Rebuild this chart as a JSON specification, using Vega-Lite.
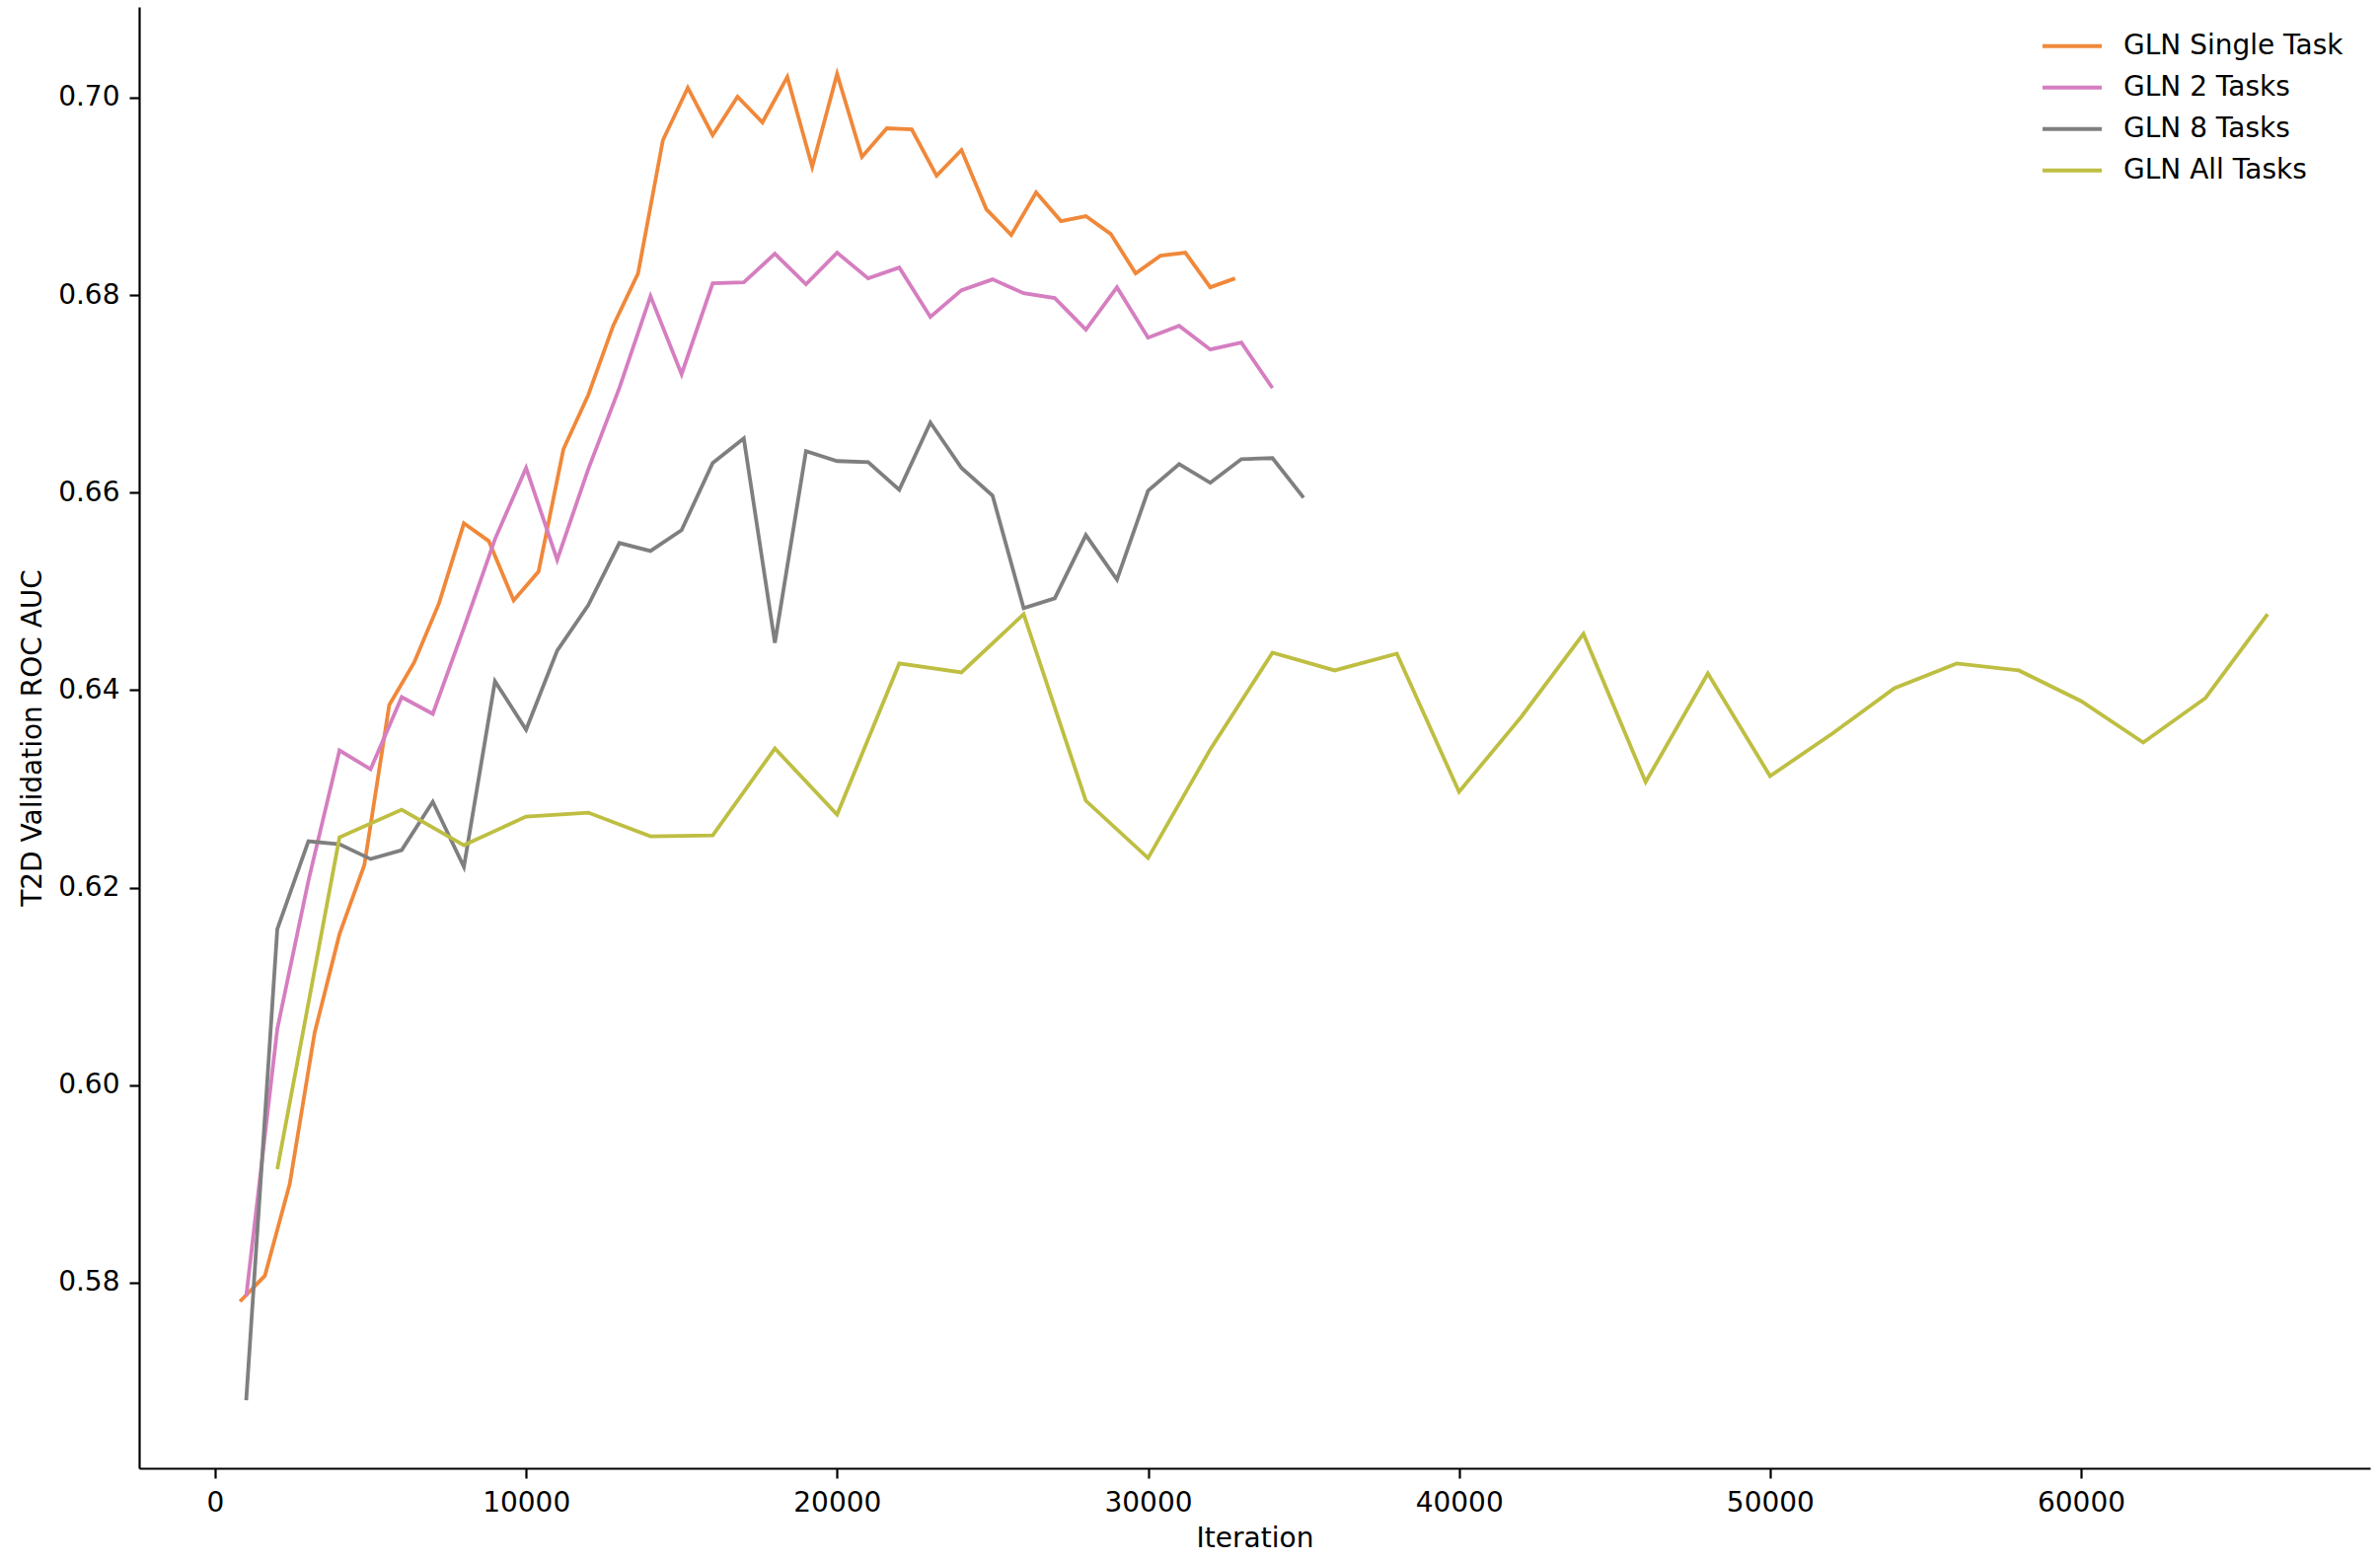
{
  "$schema": "https://vega.github.io/schema/vega-lite/v6.json",
  "width": 2261,
  "height": 1481,
  "autosize": {"type": "none"},
  "padding": {"left": 141, "top": 7, "right": 10, "bottom": 94},
  "background": "white",
  "config": {
    "view": {"stroke": null},
    "font": "DejaVu Sans",
    "axis": {
      "grid": false,
      "domainColor": "black",
      "domainWidth": 2.2,
      "tickColor": "black",
      "tickWidth": 2.2,
      "tickSize": 10,
      "labelFont": "DejaVu Sans",
      "labelFontSize": 28,
      "labelColor": "black",
      "titleFont": "DejaVu Sans",
      "titleFontSize": 28,
      "titleFontWeight": "normal",
      "titleColor": "black"
    },
    "legend": {
      "labelFont": "DejaVu Sans",
      "labelFontSize": 28,
      "labelColor": "black",
      "labelLimit": 0
    }
  },
  "data": {
    "values": [
      {"series": "GLN Single Task", "iteration": 800, "auc": 0.5781},
      {"series": "GLN Single Task", "iteration": 1600, "auc": 0.5807},
      {"series": "GLN Single Task", "iteration": 2400, "auc": 0.5900},
      {"series": "GLN Single Task", "iteration": 3200, "auc": 0.6053},
      {"series": "GLN Single Task", "iteration": 4000, "auc": 0.6153},
      {"series": "GLN Single Task", "iteration": 4800, "auc": 0.6223},
      {"series": "GLN Single Task", "iteration": 5600, "auc": 0.6385},
      {"series": "GLN Single Task", "iteration": 6400, "auc": 0.6428},
      {"series": "GLN Single Task", "iteration": 7200, "auc": 0.6488},
      {"series": "GLN Single Task", "iteration": 8000, "auc": 0.6569},
      {"series": "GLN Single Task", "iteration": 8800, "auc": 0.6551},
      {"series": "GLN Single Task", "iteration": 9600, "auc": 0.6491},
      {"series": "GLN Single Task", "iteration": 10400, "auc": 0.6520},
      {"series": "GLN Single Task", "iteration": 11200, "auc": 0.6644},
      {"series": "GLN Single Task", "iteration": 12000, "auc": 0.6699},
      {"series": "GLN Single Task", "iteration": 12800, "auc": 0.6769},
      {"series": "GLN Single Task", "iteration": 13600, "auc": 0.6822},
      {"series": "GLN Single Task", "iteration": 14400, "auc": 0.6957},
      {"series": "GLN Single Task", "iteration": 15200, "auc": 0.7010},
      {"series": "GLN Single Task", "iteration": 16000, "auc": 0.6962},
      {"series": "GLN Single Task", "iteration": 16800, "auc": 0.7001},
      {"series": "GLN Single Task", "iteration": 17600, "auc": 0.6975},
      {"series": "GLN Single Task", "iteration": 18400, "auc": 0.7021},
      {"series": "GLN Single Task", "iteration": 19200, "auc": 0.6930},
      {"series": "GLN Single Task", "iteration": 20000, "auc": 0.7024},
      {"series": "GLN Single Task", "iteration": 20800, "auc": 0.6940},
      {"series": "GLN Single Task", "iteration": 21600, "auc": 0.6969},
      {"series": "GLN Single Task", "iteration": 22400, "auc": 0.6968},
      {"series": "GLN Single Task", "iteration": 23200, "auc": 0.6921},
      {"series": "GLN Single Task", "iteration": 24000, "auc": 0.6947},
      {"series": "GLN Single Task", "iteration": 24800, "auc": 0.6887},
      {"series": "GLN Single Task", "iteration": 25600, "auc": 0.6861},
      {"series": "GLN Single Task", "iteration": 26400, "auc": 0.6904},
      {"series": "GLN Single Task", "iteration": 27200, "auc": 0.6875},
      {"series": "GLN Single Task", "iteration": 28000, "auc": 0.6880},
      {"series": "GLN Single Task", "iteration": 28800, "auc": 0.6862},
      {"series": "GLN Single Task", "iteration": 29600, "auc": 0.6822},
      {"series": "GLN Single Task", "iteration": 30400, "auc": 0.6840},
      {"series": "GLN Single Task", "iteration": 31200, "auc": 0.6843},
      {"series": "GLN Single Task", "iteration": 32000, "auc": 0.6808},
      {"series": "GLN Single Task", "iteration": 32800, "auc": 0.6817},

      {"series": "GLN 2 Tasks", "iteration": 1000, "auc": 0.5786},
      {"series": "GLN 2 Tasks", "iteration": 2000, "auc": 0.6057},
      {"series": "GLN 2 Tasks", "iteration": 3000, "auc": 0.6207},
      {"series": "GLN 2 Tasks", "iteration": 4000, "auc": 0.6339},
      {"series": "GLN 2 Tasks", "iteration": 5000, "auc": 0.6320},
      {"series": "GLN 2 Tasks", "iteration": 6000, "auc": 0.6393},
      {"series": "GLN 2 Tasks", "iteration": 7000, "auc": 0.6376},
      {"series": "GLN 2 Tasks", "iteration": 8000, "auc": 0.6463},
      {"series": "GLN 2 Tasks", "iteration": 9000, "auc": 0.6553},
      {"series": "GLN 2 Tasks", "iteration": 10000, "auc": 0.6625},
      {"series": "GLN 2 Tasks", "iteration": 11000, "auc": 0.6532},
      {"series": "GLN 2 Tasks", "iteration": 12000, "auc": 0.6624},
      {"series": "GLN 2 Tasks", "iteration": 13000, "auc": 0.6706},
      {"series": "GLN 2 Tasks", "iteration": 14000, "auc": 0.6799},
      {"series": "GLN 2 Tasks", "iteration": 15000, "auc": 0.6720},
      {"series": "GLN 2 Tasks", "iteration": 16000, "auc": 0.6812},
      {"series": "GLN 2 Tasks", "iteration": 17000, "auc": 0.6813},
      {"series": "GLN 2 Tasks", "iteration": 18000, "auc": 0.6842},
      {"series": "GLN 2 Tasks", "iteration": 19000, "auc": 0.6811},
      {"series": "GLN 2 Tasks", "iteration": 20000, "auc": 0.6843},
      {"series": "GLN 2 Tasks", "iteration": 21000, "auc": 0.6817},
      {"series": "GLN 2 Tasks", "iteration": 22000, "auc": 0.6828},
      {"series": "GLN 2 Tasks", "iteration": 23000, "auc": 0.6778},
      {"series": "GLN 2 Tasks", "iteration": 24000, "auc": 0.6805},
      {"series": "GLN 2 Tasks", "iteration": 25000, "auc": 0.6816},
      {"series": "GLN 2 Tasks", "iteration": 26000, "auc": 0.6802},
      {"series": "GLN 2 Tasks", "iteration": 27000, "auc": 0.6797},
      {"series": "GLN 2 Tasks", "iteration": 28000, "auc": 0.6765},
      {"series": "GLN 2 Tasks", "iteration": 29000, "auc": 0.6808},
      {"series": "GLN 2 Tasks", "iteration": 30000, "auc": 0.6757},
      {"series": "GLN 2 Tasks", "iteration": 31000, "auc": 0.6769},
      {"series": "GLN 2 Tasks", "iteration": 32000, "auc": 0.6745},
      {"series": "GLN 2 Tasks", "iteration": 33000, "auc": 0.6752},
      {"series": "GLN 2 Tasks", "iteration": 34000, "auc": 0.6706},

      {"series": "GLN 8 Tasks", "iteration": 1000, "auc": 0.5681},
      {"series": "GLN 8 Tasks", "iteration": 2000, "auc": 0.6158},
      {"series": "GLN 8 Tasks", "iteration": 3000, "auc": 0.6247},
      {"series": "GLN 8 Tasks", "iteration": 4000, "auc": 0.6244},
      {"series": "GLN 8 Tasks", "iteration": 5000, "auc": 0.6229},
      {"series": "GLN 8 Tasks", "iteration": 6000, "auc": 0.6238},
      {"series": "GLN 8 Tasks", "iteration": 7000, "auc": 0.6287},
      {"series": "GLN 8 Tasks", "iteration": 8000, "auc": 0.6221},
      {"series": "GLN 8 Tasks", "iteration": 9000, "auc": 0.6409},
      {"series": "GLN 8 Tasks", "iteration": 10000, "auc": 0.6360},
      {"series": "GLN 8 Tasks", "iteration": 11000, "auc": 0.6440},
      {"series": "GLN 8 Tasks", "iteration": 12000, "auc": 0.6486},
      {"series": "GLN 8 Tasks", "iteration": 13000, "auc": 0.6549},
      {"series": "GLN 8 Tasks", "iteration": 14000, "auc": 0.6541},
      {"series": "GLN 8 Tasks", "iteration": 15000, "auc": 0.6562},
      {"series": "GLN 8 Tasks", "iteration": 16000, "auc": 0.6630},
      {"series": "GLN 8 Tasks", "iteration": 17000, "auc": 0.6655},
      {"series": "GLN 8 Tasks", "iteration": 18000, "auc": 0.6448},
      {"series": "GLN 8 Tasks", "iteration": 19000, "auc": 0.6642},
      {"series": "GLN 8 Tasks", "iteration": 20000, "auc": 0.6632},
      {"series": "GLN 8 Tasks", "iteration": 21000, "auc": 0.6631},
      {"series": "GLN 8 Tasks", "iteration": 22000, "auc": 0.6603},
      {"series": "GLN 8 Tasks", "iteration": 23000, "auc": 0.6671},
      {"series": "GLN 8 Tasks", "iteration": 24000, "auc": 0.6625},
      {"series": "GLN 8 Tasks", "iteration": 25000, "auc": 0.6597},
      {"series": "GLN 8 Tasks", "iteration": 26000, "auc": 0.6483},
      {"series": "GLN 8 Tasks", "iteration": 27000, "auc": 0.6493},
      {"series": "GLN 8 Tasks", "iteration": 28000, "auc": 0.6557},
      {"series": "GLN 8 Tasks", "iteration": 29000, "auc": 0.6512},
      {"series": "GLN 8 Tasks", "iteration": 30000, "auc": 0.6602},
      {"series": "GLN 8 Tasks", "iteration": 31000, "auc": 0.6629},
      {"series": "GLN 8 Tasks", "iteration": 32000, "auc": 0.6610},
      {"series": "GLN 8 Tasks", "iteration": 33000, "auc": 0.6634},
      {"series": "GLN 8 Tasks", "iteration": 34000, "auc": 0.6635},
      {"series": "GLN 8 Tasks", "iteration": 35000, "auc": 0.6595},

      {"series": "GLN All Tasks", "iteration": 2000, "auc": 0.5915},
      {"series": "GLN All Tasks", "iteration": 4000, "auc": 0.6251},
      {"series": "GLN All Tasks", "iteration": 6000, "auc": 0.6279},
      {"series": "GLN All Tasks", "iteration": 8000, "auc": 0.6243},
      {"series": "GLN All Tasks", "iteration": 10000, "auc": 0.6272},
      {"series": "GLN All Tasks", "iteration": 12000, "auc": 0.6276},
      {"series": "GLN All Tasks", "iteration": 14000, "auc": 0.6252},
      {"series": "GLN All Tasks", "iteration": 16000, "auc": 0.6253},
      {"series": "GLN All Tasks", "iteration": 18000, "auc": 0.6341},
      {"series": "GLN All Tasks", "iteration": 20000, "auc": 0.6274},
      {"series": "GLN All Tasks", "iteration": 22000, "auc": 0.6427},
      {"series": "GLN All Tasks", "iteration": 24000, "auc": 0.6418},
      {"series": "GLN All Tasks", "iteration": 26000, "auc": 0.6477},
      {"series": "GLN All Tasks", "iteration": 28000, "auc": 0.6288},
      {"series": "GLN All Tasks", "iteration": 30000, "auc": 0.6230},
      {"series": "GLN All Tasks", "iteration": 32000, "auc": 0.6340},
      {"series": "GLN All Tasks", "iteration": 34000, "auc": 0.6438},
      {"series": "GLN All Tasks", "iteration": 36000, "auc": 0.6420},
      {"series": "GLN All Tasks", "iteration": 38000, "auc": 0.6437},
      {"series": "GLN All Tasks", "iteration": 40000, "auc": 0.6297},
      {"series": "GLN All Tasks", "iteration": 42000, "auc": 0.6373},
      {"series": "GLN All Tasks", "iteration": 44000, "auc": 0.6457},
      {"series": "GLN All Tasks", "iteration": 46000, "auc": 0.6307},
      {"series": "GLN All Tasks", "iteration": 48000, "auc": 0.6417},
      {"series": "GLN All Tasks", "iteration": 50000, "auc": 0.6313},
      {"series": "GLN All Tasks", "iteration": 52000, "auc": 0.6356},
      {"series": "GLN All Tasks", "iteration": 54000, "auc": 0.6402},
      {"series": "GLN All Tasks", "iteration": 56000, "auc": 0.6427},
      {"series": "GLN All Tasks", "iteration": 58000, "auc": 0.6420},
      {"series": "GLN All Tasks", "iteration": 60000, "auc": 0.6389},
      {"series": "GLN All Tasks", "iteration": 62000, "auc": 0.6347},
      {"series": "GLN All Tasks", "iteration": 64000, "auc": 0.6392},
      {"series": "GLN All Tasks", "iteration": 66000, "auc": 0.6477}
    ]
  },
  "mark": {"type": "line", "strokeWidth": 3.8, "clip": true},
  "encoding": {
    "x": {
      "field": "iteration",
      "type": "quantitative",
      "title": "Iteration",
      "scale": {"domain": [-2443, 69296], "nice": false, "zero": false},
      "axis": {
        "values": [0, 10000, 20000, 30000, 40000, 50000, 60000],
        "format": "d",
        "labelPadding": 11,
        "titlePadding": 8
      }
    },
    "y": {
      "field": "auc",
      "type": "quantitative",
      "title": "T2D Validation ROC AUC",
      "scale": {"domain": [0.56121, 0.70919], "nice": false, "zero": false},
      "axis": {
        "values": [0.58, 0.6, 0.62, 0.64, 0.66, 0.68, 0.7],
        "format": ".2f",
        "labelPadding": 10,
        "titlePadding": 11
      }
    },
    "color": {
      "field": "series",
      "type": "nominal",
      "sort": ["GLN Single Task", "GLN 2 Tasks", "GLN 8 Tasks", "GLN All Tasks"],
      "scale": {
        "domain": ["GLN Single Task", "GLN 2 Tasks", "GLN 8 Tasks", "GLN All Tasks"],
        "range": ["#F0883A", "#D57EC0", "#7F7F7F", "#BEBE42"]
      },
      "legend": {
        "title": null,
        "orient": "none",
        "legendX": 1927,
        "legendY": 19,
        "symbolType": "stroke",
        "symbolSize": 3600,
        "symbolStrokeWidth": 4,
        "labelOffset": 20,
        "clipHeight": 41.5,
        "rowPadding": 0
      }
    }
  }
}
